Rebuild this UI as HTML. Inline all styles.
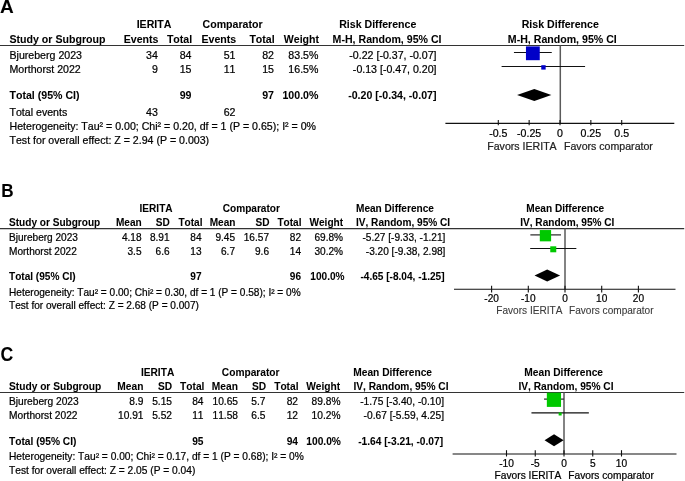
<!DOCTYPE html>
<html lang="en"><head><meta charset="utf-8"><title>Forest plots</title>
<style>
html,body{margin:0;padding:0;background:#fff;}
body{width:685px;height:481px;overflow:hidden;}
svg{display:block;font-family:'Liberation Sans', Arial, Helvetica, sans-serif;fill:#000;}
svg text{white-space:pre;font-kerning:none;stroke:#000;stroke-width:0.22px;paint-order:stroke fill;}
svg text[font-weight=bold]{stroke-width:0.06px;}
</style></head><body>
<svg width="685" height="481" viewBox="0 0 685 481">
<rect x="0" y="0" width="685" height="481" fill="#fff"/>
<text transform="translate(0.0,12.8) scale(1,1)" x="0" y="0" font-size="19" font-weight="bold">A</text>
<text x="154" y="28.1" font-size="10.6" text-anchor="middle" font-weight="bold">IERITA</text>
<text x="232.6" y="28.1" font-size="10.6" text-anchor="middle" font-weight="bold">Comparator</text>
<text x="339.2" y="28.1" font-size="10.6" font-weight="bold">Risk Difference</text>
<text x="560.3" y="28.1" font-size="10.6" text-anchor="middle" font-weight="bold">Risk Difference</text>
<text x="9.5" y="42.7" font-size="10.6" font-weight="bold">Study or Subgroup</text>
<text x="158.5" y="42.7" font-size="10.6" text-anchor="end" font-weight="bold">Events</text>
<text x="192.2" y="42.7" font-size="10.6" text-anchor="end" font-weight="bold">Total</text>
<text x="236.2" y="42.7" font-size="10.6" text-anchor="end" font-weight="bold">Events</text>
<text x="274.7" y="42.7" font-size="10.6" text-anchor="end" font-weight="bold">Total</text>
<text x="319.09999999999997" y="42.7" font-size="10.6" text-anchor="end" font-weight="bold">Weight</text>
<text x="332.6" y="42.7" font-size="10.6" font-weight="bold">M-H, Random, 95% CI</text>
<text x="562.3" y="42.7" font-size="10.6" text-anchor="middle" font-weight="bold">M-H, Random, 95% CI</text>
<line x1="0" y1="45.5" x2="684.2" y2="45.5" stroke="#333" stroke-width="1.2"/>
<text x="9.5" y="59.0" font-size="10.6">Bjureberg 2023</text>
<text x="157.8" y="59.0" font-size="10.6" text-anchor="end">34</text>
<text x="191.5" y="59.0" font-size="10.6" text-anchor="end">84</text>
<text x="235.5" y="59.0" font-size="10.6" text-anchor="end">51</text>
<text x="274" y="59.0" font-size="10.6" text-anchor="end">82</text>
<text x="318.4" y="59.0" font-size="10.6" text-anchor="end">83.5%</text>
<text x="436.5" y="59.0" font-size="10.6" text-anchor="end">-0.22 [-0.37, -0.07]</text>
<text x="9.5" y="73.4" font-size="10.6">Morthorst 2022</text>
<text x="157.8" y="73.4" font-size="10.6" text-anchor="end">9</text>
<text x="191.5" y="73.4" font-size="10.6" text-anchor="end">15</text>
<text x="235.5" y="73.4" font-size="10.6" text-anchor="end">11</text>
<text x="274" y="73.4" font-size="10.6" text-anchor="end">15</text>
<text x="318.4" y="73.4" font-size="10.6" text-anchor="end">16.5%</text>
<text x="436.5" y="73.4" font-size="10.6" text-anchor="end">-0.13 [-0.47, 0.20]</text>
<text x="9.5" y="99.1" font-size="10.6" font-weight="bold">Total (95% CI)</text>
<text x="191.5" y="99.1" font-size="10.6" text-anchor="end" font-weight="bold">99</text>
<text x="274" y="99.1" font-size="10.6" text-anchor="end" font-weight="bold">97</text>
<text x="318.4" y="99.1" font-size="10.6" text-anchor="end" font-weight="bold">100.0%</text>
<text x="436.5" y="99.1" font-size="10.6" text-anchor="end" font-weight="bold">-0.20 [-0.34, -0.07]</text>
<text x="157.8" y="116.3" font-size="10.6" text-anchor="end">43</text>
<text x="235.5" y="116.3" font-size="10.6" text-anchor="end">62</text>
<text x="9.5" y="116.3" font-size="10.6">Total events</text>
<text x="9.5" y="129.9" font-size="10.6">Heterogeneity: Tau² = 0.00; Chi² = 0.20, df = 1 (P = 0.65); I² = 0%</text>
<text x="9.5" y="144.2" font-size="10.6">Test for overall effect: Z = 2.94 (P = 0.003)</text>
<line x1="560.3" y1="45.5" x2="560.3" y2="123.4" stroke="#5a5a5a" stroke-width="1.5"/>
<line x1="445.4" y1="123.4" x2="674.3" y2="123.4" stroke="#111" stroke-width="1.1"/>
<line x1="498.3" y1="120.0" x2="498.3" y2="125.2" stroke="#111" stroke-width="1.1"/>
<text x="498.3" y="137.2" font-size="10.6" text-anchor="middle">-0.5</text>
<line x1="529.15" y1="120.0" x2="529.15" y2="125.2" stroke="#111" stroke-width="1.1"/>
<text x="529.15" y="137.2" font-size="10.6" text-anchor="middle">-0.25</text>
<line x1="560.0" y1="120.0" x2="560.0" y2="125.2" stroke="#111" stroke-width="1.1"/>
<text x="560.0" y="137.2" font-size="10.6" text-anchor="middle">0</text>
<line x1="590.85" y1="120.0" x2="590.85" y2="125.2" stroke="#111" stroke-width="1.1"/>
<text x="590.85" y="137.2" font-size="10.6" text-anchor="middle">0.25</text>
<line x1="621.7" y1="120.0" x2="621.7" y2="125.2" stroke="#111" stroke-width="1.1"/>
<text x="621.7" y="137.2" font-size="10.6" text-anchor="middle">0.5</text>
<text x="556.7" y="149.5" font-size="10.6" text-anchor="end" style="fill:#222;stroke:#222">Favors IERITA</text>
<text x="564" y="149.5" font-size="10.6" style="fill:#222;stroke:#222">Favors comparator</text>
<line x1="513.942" y1="52.5" x2="551.762" y2="52.5" stroke="#111" stroke-width="1.1"/>
<rect x="525.95" y="46.40" width="13.8" height="13.8" fill="#0000c8"/>
<line x1="501.60200000000003" y1="66.5" x2="585.0799999999999" y2="66.5" stroke="#111" stroke-width="1.1"/>
<rect x="541.26" y="65.20" width="4.4" height="4.4" fill="#0000c8"/>
<polygon points="517.06,95 534.33,89 551.36,95 534.33,101" fill="#000"/>
<text transform="translate(1.2,197.3) scale(0.9,1.0)" x="0" y="0" font-size="19" font-weight="bold">B</text>
<text x="156.1" y="212.3" font-size="10.08" text-anchor="middle" font-weight="bold">IERITA</text>
<text x="251.3" y="212.3" font-size="10.08" text-anchor="middle" font-weight="bold">Comparator</text>
<text x="356" y="212.3" font-size="10.08" font-weight="bold">Mean Difference</text>
<text x="565.3" y="212.3" font-size="10.08" text-anchor="middle" font-weight="bold">Mean Difference</text>
<text x="9" y="225.8" font-size="10.08" font-weight="bold">Study or Subgroup</text>
<text x="141.7" y="225.8" font-size="10.08" text-anchor="end" font-weight="bold">Mean</text>
<text x="169.79999999999998" y="225.8" font-size="10.08" text-anchor="end" font-weight="bold">SD</text>
<text x="202.5" y="225.8" font-size="10.08" text-anchor="end" font-weight="bold">Total</text>
<text x="235.4" y="225.8" font-size="10.08" text-anchor="end" font-weight="bold">Mean</text>
<text x="269.5" y="225.8" font-size="10.08" text-anchor="end" font-weight="bold">SD</text>
<text x="301.5" y="225.8" font-size="10.08" text-anchor="end" font-weight="bold">Total</text>
<text x="343.1" y="225.8" font-size="10.08" text-anchor="end" font-weight="bold">Weight</text>
<text x="356" y="225.8" font-size="10.08" font-weight="bold">IV, Random, 95% CI</text>
<text x="567.3" y="225.8" font-size="10.08" text-anchor="middle" font-weight="bold">IV, Random, 95% CI</text>
<line x1="0" y1="228.6" x2="684.2" y2="228.6" stroke="#333" stroke-width="1.2"/>
<text x="9" y="241.2" font-size="10.08">Bjureberg 2023</text>
<text x="141.5" y="241.2" font-size="10.08" text-anchor="end">4.18</text>
<text x="169.6" y="241.2" font-size="10.08" text-anchor="end">8.91</text>
<text x="201.5" y="241.2" font-size="10.08" text-anchor="end">84</text>
<text x="235" y="241.2" font-size="10.08" text-anchor="end">9.45</text>
<text x="269" y="241.2" font-size="10.08" text-anchor="end">16.57</text>
<text x="301" y="241.2" font-size="10.08" text-anchor="end">82</text>
<text x="343" y="241.2" font-size="10.08" text-anchor="end">69.8%</text>
<text x="445.4" y="241.2" font-size="10.08" text-anchor="end">-5.27 [-9.33, -1.21]</text>
<text x="9" y="254.5" font-size="10.08">Morthorst 2022</text>
<text x="141.5" y="254.5" font-size="10.08" text-anchor="end">3.5</text>
<text x="169.6" y="254.5" font-size="10.08" text-anchor="end">6.6</text>
<text x="201.5" y="254.5" font-size="10.08" text-anchor="end">13</text>
<text x="235" y="254.5" font-size="10.08" text-anchor="end">6.7</text>
<text x="269" y="254.5" font-size="10.08" text-anchor="end">9.6</text>
<text x="301" y="254.5" font-size="10.08" text-anchor="end">14</text>
<text x="343" y="254.5" font-size="10.08" text-anchor="end">30.2%</text>
<text x="445.4" y="254.5" font-size="10.08" text-anchor="end">-3.20 [-9.38, 2.98]</text>
<text x="9" y="280.1" font-size="10.08" font-weight="bold">Total (95% CI)</text>
<text x="201.5" y="280.1" font-size="10.08" text-anchor="end" font-weight="bold">97</text>
<text x="301" y="280.1" font-size="10.08" text-anchor="end" font-weight="bold">96</text>
<text x="344.5" y="280.1" font-size="10.08" text-anchor="end" font-weight="bold">100.0%</text>
<text x="444.5" y="280.1" font-size="10.08" text-anchor="end" font-weight="bold">-4.65 [-8.04, -1.25]</text>
<text x="9" y="295.5" font-size="10.08">Heterogeneity: Tau² = 0.00; Chi² = 0.30, df = 1 (P = 0.58); I² = 0%</text>
<text x="9" y="308.7" font-size="10.08">Test for overall effect: Z = 2.68 (P = 0.007)</text>
<line x1="565" y1="228.6" x2="565" y2="289.2" stroke="#5a5a5a" stroke-width="1.5"/>
<line x1="454" y1="289.2" x2="675.5" y2="289.2" stroke="#111" stroke-width="1.1"/>
<line x1="491.6" y1="285.7" x2="491.6" y2="292.5" stroke="#111" stroke-width="1.1"/>
<text x="491.6" y="302.3" font-size="10.08" text-anchor="middle">-20</text>
<line x1="528.3" y1="285.7" x2="528.3" y2="292.5" stroke="#111" stroke-width="1.1"/>
<text x="528.3" y="302.3" font-size="10.08" text-anchor="middle">-10</text>
<line x1="565.0" y1="285.7" x2="565.0" y2="292.5" stroke="#111" stroke-width="1.1"/>
<text x="565.0" y="302.3" font-size="10.08" text-anchor="middle">0</text>
<line x1="601.7" y1="285.7" x2="601.7" y2="292.5" stroke="#111" stroke-width="1.1"/>
<text x="601.7" y="302.3" font-size="10.08" text-anchor="middle">10</text>
<line x1="638.4" y1="285.7" x2="638.4" y2="292.5" stroke="#111" stroke-width="1.1"/>
<text x="638.4" y="302.3" font-size="10.08" text-anchor="middle">20</text>
<text x="562.4" y="314.3" font-size="10.08" text-anchor="end" style="fill:#3a3a3a;stroke:#3a3a3a;stroke-width:0.1px">Favors IERITA</text>
<text x="569" y="314.3" font-size="10.08" style="fill:#3a3a3a;stroke:#3a3a3a;stroke-width:0.1px">Favors comparator</text>
<line x1="530.3589000000001" y1="234.9" x2="560.9593" y2="234.9" stroke="#111" stroke-width="1.1"/>
<rect x="539.81" y="230.05" width="11.3" height="11.3" fill="#00c800"/>
<line x1="530.1754" y1="248.5" x2="576.3366" y2="248.5" stroke="#111" stroke-width="1.1"/>
<rect x="550.26" y="246.30" width="6" height="6" fill="#00c800"/>
<polygon points="534.54,275.6 547.20,269.6 560.12,275.6 547.20,281.6" fill="#000"/>
<text transform="translate(0.5,361.4) scale(0.93,1.05)" x="0" y="0" font-size="19" font-weight="bold">C</text>
<text x="157.6" y="376.1" font-size="10.2" text-anchor="middle" font-weight="bold">IERITA</text>
<text x="250.7" y="376.1" font-size="10.2" text-anchor="middle" font-weight="bold">Comparator</text>
<text x="353.3" y="376.1" font-size="10.2" font-weight="bold">Mean Difference</text>
<text x="563.7" y="376.1" font-size="10.2" text-anchor="middle" font-weight="bold">Mean Difference</text>
<text x="9" y="389.6" font-size="10.2" font-weight="bold">Study or Subgroup</text>
<text x="143.4" y="389.6" font-size="10.2" text-anchor="end" font-weight="bold">Mean</text>
<text x="172.1" y="389.6" font-size="10.2" text-anchor="end" font-weight="bold">SD</text>
<text x="204.4" y="389.6" font-size="10.2" text-anchor="end" font-weight="bold">Total</text>
<text x="237.9" y="389.6" font-size="10.2" text-anchor="end" font-weight="bold">Mean</text>
<text x="266.09999999999997" y="389.6" font-size="10.2" text-anchor="end" font-weight="bold">SD</text>
<text x="298.5" y="389.6" font-size="10.2" text-anchor="end" font-weight="bold">Total</text>
<text x="340.1" y="389.6" font-size="10.2" text-anchor="end" font-weight="bold">Weight</text>
<text x="353.4" y="389.6" font-size="10.2" font-weight="bold">IV, Random, 95% CI</text>
<text x="566.0" y="389.6" font-size="10.2" text-anchor="middle" font-weight="bold">IV, Random, 95% CI</text>
<line x1="0" y1="392.5" x2="684.2" y2="392.5" stroke="#333" stroke-width="1.2"/>
<text x="9" y="405.3" font-size="10.2">Bjureberg 2023</text>
<text x="143.5" y="405.3" font-size="10.2" text-anchor="end">8.9</text>
<text x="172" y="405.3" font-size="10.2" text-anchor="end">5.15</text>
<text x="203.5" y="405.3" font-size="10.2" text-anchor="end">84</text>
<text x="238" y="405.3" font-size="10.2" text-anchor="end">10.65</text>
<text x="265.4" y="405.3" font-size="10.2" text-anchor="end">5.7</text>
<text x="298" y="405.3" font-size="10.2" text-anchor="end">82</text>
<text x="340.5" y="405.3" font-size="10.2" text-anchor="end">89.8%</text>
<text x="444" y="405.3" font-size="10.2" text-anchor="end">-1.75 [-3.40, -0.10]</text>
<text x="9" y="419.1" font-size="10.2">Morthorst 2022</text>
<text x="143.5" y="419.1" font-size="10.2" text-anchor="end">10.91</text>
<text x="172" y="419.1" font-size="10.2" text-anchor="end">5.52</text>
<text x="203.5" y="419.1" font-size="10.2" text-anchor="end">11</text>
<text x="238" y="419.1" font-size="10.2" text-anchor="end">11.58</text>
<text x="265.4" y="419.1" font-size="10.2" text-anchor="end">6.5</text>
<text x="298" y="419.1" font-size="10.2" text-anchor="end">12</text>
<text x="340.5" y="419.1" font-size="10.2" text-anchor="end">10.2%</text>
<text x="444" y="419.1" font-size="10.2" text-anchor="end">-0.67 [-5.59, 4.25]</text>
<text x="9" y="444.5" font-size="10.2" font-weight="bold">Total (95% CI)</text>
<text x="203.5" y="444.5" font-size="10.2" text-anchor="end" font-weight="bold">95</text>
<text x="298" y="444.5" font-size="10.2" text-anchor="end" font-weight="bold">94</text>
<text x="340.9" y="444.5" font-size="10.2" text-anchor="end" font-weight="bold">100.0%</text>
<text x="443.1" y="444.5" font-size="10.2" text-anchor="end" font-weight="bold">-1.64 [-3.21, -0.07]</text>
<text x="9" y="460.1" font-size="10.2">Heterogeneity: Tau² = 0.00; Chi² = 0.17, df = 1 (P = 0.68); I² = 0%</text>
<text x="9" y="474.1" font-size="10.2">Test for overall effect: Z = 2.05 (P = 0.04)</text>
<line x1="564" y1="392.5" x2="564" y2="454.0" stroke="#5a5a5a" stroke-width="1.5"/>
<line x1="452.6" y1="454.0" x2="676.5" y2="454.0" stroke="#111" stroke-width="1.1"/>
<line x1="506.5" y1="450.2" x2="506.5" y2="456.5" stroke="#111" stroke-width="1.1"/>
<text x="506.5" y="466.8" font-size="10.2" text-anchor="middle">-10</text>
<line x1="535.25" y1="450.2" x2="535.25" y2="456.5" stroke="#111" stroke-width="1.1"/>
<text x="535.25" y="466.8" font-size="10.2" text-anchor="middle">-5</text>
<line x1="564.0" y1="450.2" x2="564.0" y2="456.5" stroke="#111" stroke-width="1.1"/>
<text x="564.0" y="466.8" font-size="10.2" text-anchor="middle">0</text>
<line x1="592.75" y1="450.2" x2="592.75" y2="456.5" stroke="#111" stroke-width="1.1"/>
<text x="592.75" y="466.8" font-size="10.2" text-anchor="middle">5</text>
<line x1="621.5" y1="450.2" x2="621.5" y2="456.5" stroke="#111" stroke-width="1.1"/>
<text x="621.5" y="466.8" font-size="10.2" text-anchor="middle">10</text>
<text x="561.4" y="478.8" font-size="10.2" text-anchor="end">Favors IERITA</text>
<text x="568.3" y="478.8" font-size="10.2">Favors comparator</text>
<line x1="544.0500000000001" y1="399.1" x2="563.8249999999999" y2="399.1" stroke="#111" stroke-width="1.1"/>
<rect x="546.84" y="392.70" width="14.2" height="14.2" fill="#00c800"/>
<line x1="531.4575" y1="412.9" x2="588.8375" y2="412.9" stroke="#111" stroke-width="1.1"/>
<rect x="558.65" y="412.50" width="3" height="3" fill="#00c800"/>
<polygon points="544.57,440.3 554.05,434.3 563.60,440.3 554.05,446.3" fill="#000"/>
</svg>
</body></html>
